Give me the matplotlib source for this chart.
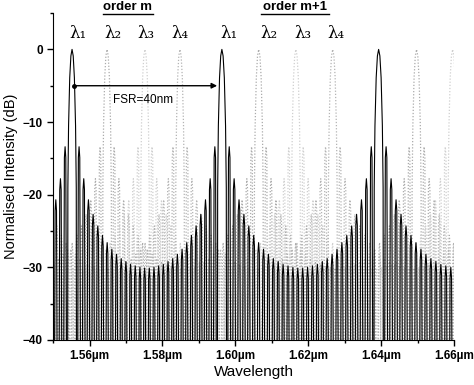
import numpy as np
import matplotlib
matplotlib.use("Agg")
import matplotlib.pyplot as plt
from matplotlib.lines import Line2D
from matplotlib.ticker import MultipleLocator, FuncFormatter

plt.rcParams["font.family"] = ["Liberation Sans", "DejaVu Sans"]

# ========================= DATA =========================
# peak wavelengths (um) of each channel, one entry per grating order (incl. off-screen ones)
peaks_l1 = [1.5145, 1.5552, 1.5963, 1.6393, 1.6830]
peaks_l2 = [1.5240, 1.5648, 1.6064, 1.6497, 1.6940]
peaks_l3 = [1.5345, 1.5752, 1.6166, 1.6596, 1.7040]
peaks_l4 = [1.5440, 1.5848, 1.6267, 1.6700, 1.7140]

# side-lobe tops (dB), from the main peak out to the middle of the FSR (mirrored after)
sidelobe_db = [-13.4, -17.8, -20.7, -22.7, -24.3, -25.6, -26.6, -27.5,
               -28.2, -28.8, -29.2, -29.6, -29.8, -30.0, -30.1]
# main lobe level (dB) going out from the peak
mainlobe_db = [0.0, -0.9, -3.9, -10.5, -19.0]

x_ticks = [1.56, 1.58, 1.60, 1.62, 1.64, 1.66]
y_ticks = [0, -10, -20, -30, -40]

# ========================= SPECTRUM TRACE =========================
N = 2 * len(sidelobe_db) + 2          # lobes per free spectral range
main_off = [0.0, 0.25, 0.5, 0.75, 0.9]
hump_off = [-0.15, 0.0, 0.15]
hump_drop = [1.5, 0.0, 1.5]
NULL = -80.0


def trace(peaks):
    xs, ys = [], []
    for p0, p1 in zip(peaks[:-1], peaks[1:]):
        d = (p1 - p0) / N
        for f, v in zip(main_off, mainlobe_db):
            xs.append(p0 + f * d); ys.append(v)
        xs.append(p0 + d); ys.append(NULL)
        for k in range(1, N - 1):
            top = sidelobe_db[min(k, N - 1 - k) - 1]
            c = p0 + (k + 0.5) * d
            for o, dr in zip(hump_off, hump_drop):
                xs.append(c + o * d); ys.append(top - dr)
            xs.append(p0 + (k + 1) * d); ys.append(NULL)
        for f, v in zip(main_off[::-1], mainlobe_db[::-1]):
            if f > 0:
                xs.append(p1 - f * d); ys.append(v)
    xs.append(peaks[-1]); ys.append(0.0)
    return np.array(xs), np.array(ys)


fig = plt.figure(figsize=(4.74, 3.85), dpi=100)
ax = fig.add_axes([0.112, 0.117, 0.846, 0.849])

for pk, col in [(peaks_l2, "#ababab"), (peaks_l3, "#cfcfcf"), (peaks_l4, "#b4b4b4")]:
    x, y = trace(pk)
    ax.plot(x, y, color=col, lw=0.9, ls=(0, (1, 1.5)))
x, y = trace(peaks_l1)
ax.plot(x, y, color="black", lw=0.8)

ax.set_xlim(1.55, 1.66)
ax.set_ylim(-40, 5)
ax.set_xticks(x_ticks)
ax.xaxis.set_major_formatter(FuncFormatter(lambda v, p: f"{v:.2f}\u00b5m"))
ax.xaxis.set_minor_locator(MultipleLocator(0.01))
ax.set_yticks(y_ticks)
ax.yaxis.set_minor_locator(MultipleLocator(5))
ax.spines["top"].set_visible(False)
ax.spines["right"].set_visible(False)
ax.tick_params(which="major", direction="out", length=4, width=1, labelsize=8.5)
ax.tick_params(which="minor", direction="out", length=2.5, width=1)
for lab in ax.get_xticklabels() + ax.get_yticklabels():
    lab.set_fontweight("bold")

ax.set_xlabel("Wavelength", fontsize=11, labelpad=2)
ax.set_ylabel("Normalised Intensity (dB)", fontsize=10.5, labelpad=3)

# FSR arrow
ax.annotate("", xy=(1.5950, -5), xytext=(1.5557, -5),
            arrowprops=dict(arrowstyle="-|>", color="black", lw=1.0,
                            mutation_scale=8, shrinkA=0, shrinkB=0))
ax.plot([1.5557], [-5], "o", color="black", ms=2.5)
ax.text(1.5747, -7.0, "FSR=40nm", fontsize=8.5, ha="center", va="center")

# channel labels
lam_px = [(78, "\u2081"), (113, "\u2082"), (146, "\u2083"), (180, "\u2084"),
          (229, "\u2081"), (269, "\u2082"), (303, "\u2083"), (336, "\u2084")]
for px, n in lam_px:
    fig.text(px / 474, 1 - 33 / 385, "\u03bb" + n, fontsize=12,
             family=["DejaVu Serif"], ha="center", va="center")

for cx, txt, w in [(128, "order m", 50), (295, "order m+1", 68)]:
    fig.text(cx / 474, 1 - 7 / 385, txt, fontsize=9.5, fontweight="bold",
             ha="center", va="center")
    fig.add_artist(Line2D([(cx - w / 2) / 474, (cx + w / 2) / 474],
                          [1 - 14 / 385, 1 - 14 / 385], color="black", lw=1.0))

fig.savefig("out.png", dpi=100)
